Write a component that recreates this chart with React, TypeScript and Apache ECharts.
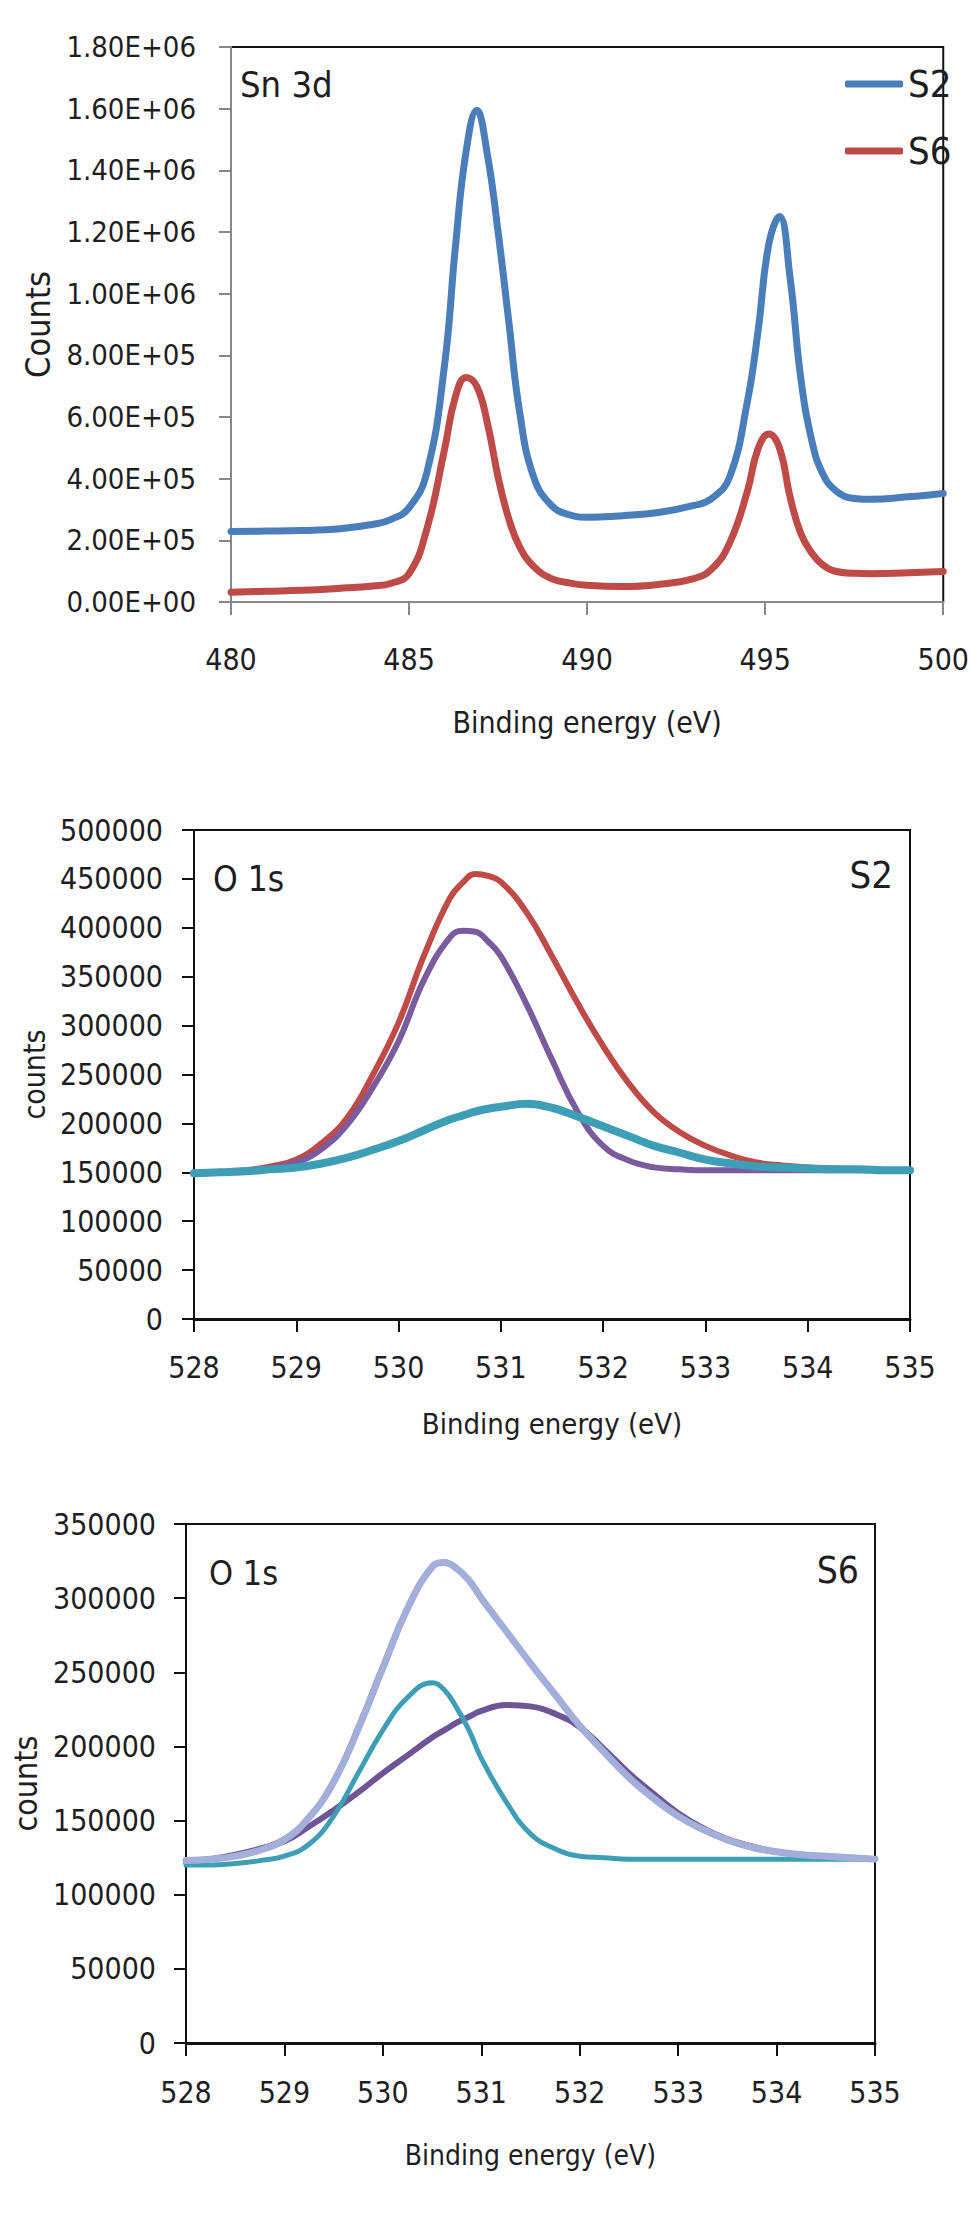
import React, { useEffect, useRef } from "react";
import * as echarts from "echarts";

// ---------- Panel 1: Sn 3d ----------
const snX = [480, 481, 482, 483, 484, 484.5, 485, 485.5, 486, 486.3, 486.6, 486.9, 487.2, 487.5, 487.8, 488.1, 488.5, 489, 489.5, 490, 491, 492, 493, 493.5, 494, 494.5, 494.8, 495.1, 495.4, 495.7, 496, 496.3, 496.6, 497, 497.5, 498, 499, 500];
const snS2 = [229000, 230000, 232000, 237000, 252000, 268000, 306000, 420000, 772000, 1150000, 1460000, 1595000, 1450000, 1200000, 910000, 620000, 405000, 313000, 283000, 275000, 280000, 290000, 313000, 336000, 405000, 650000, 879000, 1160000, 1250000, 1050000, 726000, 528000, 420000, 359000, 336000, 333000, 341000, 352000];
const snS6 = [32000, 35000, 38000, 44000, 52000, 61000, 92000, 237000, 497000, 665000, 728000, 700000, 580000, 405000, 270000, 180000, 115000, 76000, 62000, 54000, 50000, 57000, 76000, 107000, 191000, 359000, 497000, 545000, 500000, 340000, 222000, 160000, 122000, 99000, 93000, 92000, 95000, 99000];
const snLegend = ["S2", "S6"];

// ---------- Panel 2: O 1s, S2 ----------
const o2X = [528, 528.25, 528.5, 528.75, 529, 529.25, 529.5, 529.75, 530, 530.25, 530.5, 530.625, 530.75, 530.875, 531, 531.25, 531.5, 531.75, 532, 532.25, 532.5, 532.75, 533, 533.25, 533.5, 533.75, 534, 534.25, 534.5, 534.75, 535];
const o2Envelope = [148000, 150000, 152000, 156000, 163000, 180000, 206000, 250000, 303000, 372000, 430000, 446000, 455000, 453000, 447000, 416000, 371000, 323000, 279000, 241000, 211000, 191000, 177000, 167000, 160000, 157000, 155000, 154000, 153000, 152000, 152000];
const o2PeakA = [149000, 150000, 151000, 154000, 160000, 174000, 199000, 237000, 284000, 347000, 390000, 397000, 396000, 386000, 371000, 322000, 265000, 212000, 177000, 162000, 155000, 153000, 152000, 152000, 152000, 152000, 152000, 152000, 152000, 152000, 152000];
const o2PeakB = [149000, 150000, 151000, 153000, 155000, 159000, 165000, 173000, 182000, 193000, 204000, 208000, 212000, 215000, 217000, 220000, 216000, 207000, 197000, 187000, 177000, 170000, 163000, 159000, 156000, 155000, 154000, 153000, 153000, 152000, 152000];

// ---------- Panel 3: O 1s, S6 ----------
const o6X = [528, 528.25, 528.5, 528.75, 529, 529.25, 529.5, 529.75, 530, 530.25, 530.5, 530.625, 530.75, 530.875, 531, 531.25, 531.5, 531.75, 532, 532.25, 532.5, 532.75, 533, 533.25, 533.5, 533.75, 534, 534.25, 534.5, 534.75, 535];
const o6Fit = [124000, 125000, 127000, 132000, 139000, 154000, 179000, 216000, 257000, 295000, 320000, 323000, 319000, 311000, 299000, 278000, 256000, 235000, 215000, 197000, 181000, 167000, 155000, 146000, 139000, 134000, 130000, 128000, 126000, 125000, 124000];
const o6Data = [123000, 124000, 126000, 130000, 137000, 152000, 176000, 212000, 253000, 293000, 321000, 324000, 320000, 312000, 300000, 278000, 256000, 235000, 214000, 196000, 179000, 165000, 153000, 144000, 137000, 132000, 129000, 127000, 126000, 125000, 124000];
const o6PeakA = [122000, 124000, 127000, 131000, 136000, 146000, 157000, 169000, 182000, 194000, 206000, 211000, 216000, 220000, 224000, 228000, 227000, 222000, 213000, 198000, 182000, 168000, 155000, 145000, 137000, 132000, 129000, 127000, 126000, 125000, 124000];
const o6PeakB = [120000, 120000, 121000, 123000, 126000, 134000, 153000, 182000, 211000, 233000, 243000, 238000, 226000, 211000, 192000, 163000, 141000, 131000, 126000, 125000, 124000, 124000, 124000, 124000, 124000, 124000, 124000, 124000, 124000, 124000, 124000];

const FONT = "'DejaVu Sans Condensed', 'DejaVu Sans', sans-serif";
const TXT = "#1e1e1e";

const pairs = (xs: number[], ys: number[]) => xs.map((x, i) => [x, ys[i]]);

const sci = (v: number) => {
  if (v === 0) return "0.00E+00";
  const e = Math.floor(Math.log10(Math.abs(v)) + 1e-9);
  const m = v / Math.pow(10, e);
  return m.toFixed(2) + "E+" + String(e).padStart(2, "0");
};
const plain = (v: number) => String(v);

export default function App() {
  const ref = useRef<HTMLDivElement>(null);
  useEffect(() => {
    if (!ref.current) return;
    const chart = echarts.init(ref.current, null, { renderer: "svg" });

    const line = (name: string, xi: number, xs: number[], ys: number[], color: string, width: number, z = 2) => ({
      name,
      type: "line",
      xAxisIndex: xi,
      yAxisIndex: xi,
      data: pairs(xs, ys),
      showSymbol: false,
      symbol: "none",
      smooth: 0.45,
      z,
      lineStyle: { color, width, cap: "round", join: "round" },
      itemStyle: { color },
      emphasis: { disabled: true },
    });

    const xAx = (gi: number, min: number, max: number, interval: number, axisColor: string, axisW: number, fs: number, margin: number, nameGap: number, nameFs: number) => ({
      type: "value",
      gridIndex: gi,
      min,
      max,
      interval,
      name: "Binding energy (eV)",
      nameLocation: "middle",
      nameGap,
      nameTextStyle: { fontFamily: FONT, fontSize: nameFs, color: TXT },
      axisLine: { show: true, onZero: false, lineStyle: { color: axisColor, width: axisW } },
      axisTick: { show: true, length: 13, lineStyle: { color: axisColor, width: 2 } },
      axisLabel: { fontFamily: FONT, fontSize: fs, color: TXT, margin },
      splitLine: { show: false },
    });

    const yAx = (gi: number, min: number, max: number, interval: number, name: string, axisColor: string, fs: number, margin: number, nameGap: number, nameFs: number, fmt: (v: number) => string) => ({
      type: "value",
      gridIndex: gi,
      min,
      max,
      interval,
      name,
      nameLocation: "middle",
      nameGap,
      nameTextStyle: { fontFamily: FONT, fontSize: nameFs, color: TXT },
      axisLine: { show: true, lineStyle: { color: axisColor, width: 2 } },
      axisTick: { show: true, length: 12, lineStyle: { color: axisColor, width: 2 } },
      axisLabel: { fontFamily: FONT, fontSize: fs, color: TXT, margin, formatter: fmt },
      splitLine: { show: false },
    });

    const option: any = {
      animation: false,
      backgroundColor: "#ffffff",
      grid: [
        { left: 231, top: 47, width: 727, height: 555, show: true, borderColor: "#111", borderWidth: 2, backgroundColor: "transparent" },
        { left: 194, top: 830, width: 716, height: 489, show: true, borderColor: "#111", borderWidth: 2, backgroundColor: "transparent" },
        { left: 186, top: 1524, width: 689, height: 519, show: true, borderColor: "#111", borderWidth: 2, backgroundColor: "transparent" },
      ],
      xAxis: [
        xAx(0, 480, 500, 5, "#888888", 2, 30, 42, 105, 30),
        xAx(1, 528, 535, 1, "#111111", 3, 30, 33, 90, 29),
        xAx(2, 528, 535, 1, "#111111", 3, 30, 34, 98, 28),
      ],
      yAxis: [
        yAx(0, 0, 1800000, 200000, "Counts", "#888888", 29, 35, 171, 34, sci),
        yAx(1, 0, 500000, 50000, "counts", "#111111", 30, 31, 140, 30, plain),
        yAx(2, 0, 350000, 50000, "counts", "#111111", 30, 30, 133, 32, plain),
      ],
      legend: {
        data: snLegend.map((n) => ({ name: n, icon: "roundRect" })),
        orient: "vertical",
        left: 840,
        top: 60,
        itemWidth: 58,
        itemHeight: 7,
        itemGap: 29,
        selectedMode: false,
        textStyle: { fontFamily: FONT, fontSize: 38, color: TXT },
      },
      series: [
        line("S2", 0, snX, snS2, "#4A7EBB", 7),
        line("S6", 0, snX, snS6, "#BE4B48", 7),
        line("Envelope (S2)", 1, o2X, o2Envelope, "#BE4B48", 6, 2),
        line("Peak 1 (S2)", 1, o2X, o2PeakA, "#7A5C9E", 6, 3),
        line("Peak 2 (S2)", 1, o2X, o2PeakB, "#3E9EB6", 8, 4),
        line("Fit (S6)", 2, o6X, o6Fit, "#BE4B48", 2, 2),
        line("Peak 1 (S6)", 2, o6X, o6PeakA, "#6E5596", 6, 3),
        line("Peak 2 (S6)", 2, o6X, o6PeakB, "#3E9EB6", 5, 4),
        line("Data (S6)", 2, o6X, o6Data, "#A3AEDA", 7, 5),
      ],
      graphic: [
        { type: "text", x: 240, y: 84, z: 10, style: { text: "Sn 3d", fontFamily: FONT, fontSize: 36, fill: TXT, align: "left", verticalAlign: "middle" } },
        { type: "text", x: 213, y: 879, z: 10, style: { text: "O 1s", fontFamily: FONT, fontSize: 35, fill: TXT, align: "left", verticalAlign: "middle" } },
        { type: "text", x: 893, y: 875, z: 10, style: { text: "S2", fontFamily: FONT, fontSize: 38, fill: TXT, align: "right", verticalAlign: "middle" } },
        { type: "text", x: 209, y: 1573, z: 10, style: { text: "O 1s", fontFamily: FONT, fontSize: 34, fill: TXT, align: "left", verticalAlign: "middle" } },
        { type: "text", x: 859, y: 1570, z: 10, style: { text: "S6", fontFamily: FONT, fontSize: 37, fill: TXT, align: "right", verticalAlign: "middle" } },
      ],
    };

    chart.setOption(option);
    return () => chart.dispose();
  }, []);

  return <div ref={ref} style={{ position: "absolute", left: 0, top: 0, width: 972, height: 2221 }} />;
}
